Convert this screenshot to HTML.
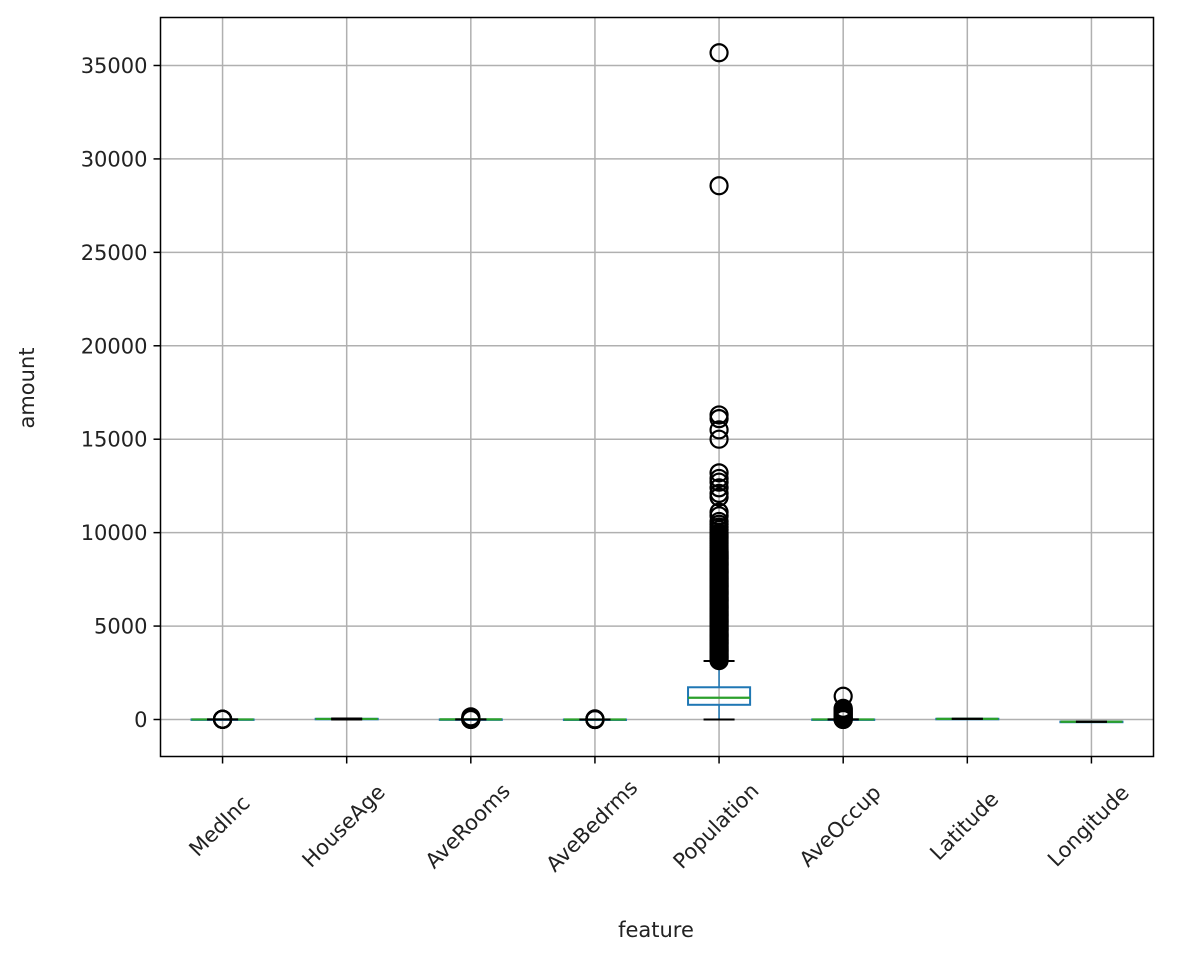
<!DOCTYPE html>
<html><head><meta charset="utf-8"><style>
html,body{margin:0;padding:0;background:#fff;}
svg{display:block;font-family:"DejaVu Sans","Liberation Sans",sans-serif;}
</style></head><body>
<svg id="chart" width="1202" height="954" viewBox="0 0 1202 954" xmlns="http://www.w3.org/2000/svg">
<g id="grid"></g>
<g id="boxes"></g>
<rect x="160.5" y="17.5" width="993" height="739" fill="none" stroke="#000" stroke-width="1.5"/>
<g id="ticks"></g>
<text x="0" y="0" transform="translate(34,388) rotate(-90)" text-anchor="middle" font-size="21" fill="#222">amount</text>
<text x="656" y="937" text-anchor="middle" font-size="21" fill="#222">feature</text>
</svg>
<script>
const categories = ["MedInc","HouseAge","AveRooms","AveBedrms","Population","AveOccup","Latitude","Longitude"];
const q1Values = [2.6, 18, 4.4, 1.0, 787, 2.4, 33.9, -121.8];
const medianValues = [3.5, 29, 5.2, 1.05, 1166, 2.8, 34.3, -118.5];
const q3Values = [4.7, 37, 6.1, 1.1, 1725, 3.3, 37.7, -118.0];
const whiskerLow = [0.5, 1, 1.0, 0.9, 3, 0.7, 32.5, -124.3];
const whiskerHigh = [8.0, 52, 8.5, 1.24, 3132, 4.5, 42, -114.3];
const outliersMedInc = [8.1, 9, 10, 11, 12, 13, 15];
const outliersAveRooms = [0.8, 9, 12, 20, 40, 60, 100, 142];
const outliersAveBedrms = [0.3, 1.3, 2, 5, 10, 20, 34];
const outliersAveOccup = [0.7, 5, 10, 20, 50, 100, 150, 200, 250, 300, 350, 400, 450, 500, 560, 600, 1243];
const outliersPopulation = [3150,3200,3250,3300,3350,3400,3450,3500,3550,3600,3650,3700,3750,3800,3850,3900,3950,4000,4050,4100,4150,4200,4250,4300,4350,4400,4450,4500,4550,4600,4650,4700,4750,4800,4850,4900,4950,5000,5050,5100,5150,5200,5250,5300,5350,5400,5450,5500,5550,5600,5650,5700,5750,5800,5850,5900,5950,6000,6050,6100,6150,6200,6250,6300,6350,6400,6450,6500,6550,6600,6650,6700,6750,6800,6850,6900,6950,7000,7050,7100,7150,7200,7250,7300,7350,7400,7450,7500,7550,7600,7650,7700,7750,7800,7850,7900,7950,8000,8050,8100,8150,8200,8250,8300,8350,8400,8450,8500,8550,8600,8650,8700,8750,8800,8850,8900,8950,9000,9100,9200,9300,9400,9500,9600,9700,9800,9900,10000,10150,10300,10450,10600,10900,11100,11900,12100,12400,12700,12900,13200,15000,15500,16100,16300,28566,35682];
const yTicks = [0,5000,10000,15000,20000,25000,30000,35000];
const yMin = -1980, yMax = 37568;

const NS = "http://www.w3.org/2000/svg";
const L = 160.5, R = 1153.5, T = 17.5, B = 756.5;
const step = (R - L) / categories.length;
function xPos(i){ return L + step * (i + 0.5); }
function yPos(v){ return B - (v - yMin) / (yMax - yMin) * (B - T); }
function mk(tag, attrs, parent){ const e = document.createElementNS(NS, tag); for (const k in attrs) e.setAttribute(k, attrs[k]); parent.appendChild(e); return e; }

const grid = document.getElementById('grid');
const ticks = document.getElementById('ticks');
const boxes = document.getElementById('boxes');

yTicks.forEach(v => {
  const y = yPos(v);
  const g = mk('line', {x1:L, x2:R, y1:y, y2:y, stroke:'#b0b0b0', 'stroke-width':1.5}, grid);
  
  
  const t = mk('line', {x1:L-7, x2:L, y1:y, y2:y, stroke:'#000', 'stroke-width':1.5}, ticks);
  
  
  const tx = mk('text', {x:L-13, y:y+7.5, 'text-anchor':'end', 'font-size':21, fill:'#222'}, ticks);
  tx.textContent = String(v);
  
  
});
categories.forEach((c, i) => {
  const x = xPos(i);
  const g = mk('line', {x1:x, x2:x, y1:T, y2:B, stroke:'#b0b0b0', 'stroke-width':1.5}, grid);
  
  
  const t = mk('line', {x1:x, x2:x, y1:B, y2:B+7, stroke:'#000', 'stroke-width':1.5}, ticks);
  
  
  const tx = mk('text', {x:0, y:0, 'text-anchor':'middle', 'dominant-baseline':'central', 'font-size':21, fill:'#222', transform:`translate(${x-3},${826}) rotate(-45)`}, ticks);
  tx.textContent = c;
  
  
});

const outlierMap = {0: outliersMedInc, 2: outliersAveRooms, 3: outliersAveBedrms, 4: outliersPopulation, 5: outliersAveOccup};
categories.forEach((c, i) => {
  const x = xPos(i);
  const g = mk('g', {}, boxes);
  
  
  const hw = step * 0.25, cw = step * 0.125;
  const blue = '#1f77b4';
  mk('line', {x1:x, x2:x, y1:yPos(q3Values[i]), y2:yPos(whiskerHigh[i]), stroke:blue, 'stroke-width':1.5}, g);
  mk('line', {x1:x, x2:x, y1:yPos(q1Values[i]), y2:yPos(whiskerLow[i]), stroke:blue, 'stroke-width':1.5}, g);
  const yt = yPos(q3Values[i]), yb = yPos(q1Values[i]);
  mk('rect', {x:x-hw, y:yt, width:hw*2, height:Math.max(yb-yt,0.5), fill:'none', stroke:blue, 'stroke-width':2}, g);
  mk('line', {x1:x-hw, x2:x+hw, y1:yPos(medianValues[i]), y2:yPos(medianValues[i]), stroke:'#2ca02c', 'stroke-width':2.2}, g);
  (outlierMap[i] || []).forEach(v => {
    const o = mk('circle', {cx:x, cy:yPos(v), r:8.5, fill:'none', stroke:'#000', 'stroke-width':2.2}, g);
    
    
  });
  mk('line', {x1:x-cw, x2:x+cw, y1:yPos(whiskerHigh[i]), y2:yPos(whiskerHigh[i]), stroke:'#000', 'stroke-width':2}, g);
  mk('line', {x1:x-cw, x2:x+cw, y1:yPos(whiskerLow[i]), y2:yPos(whiskerLow[i]), stroke:'#000', 'stroke-width':2}, g);
});
</script>
</body></html>
